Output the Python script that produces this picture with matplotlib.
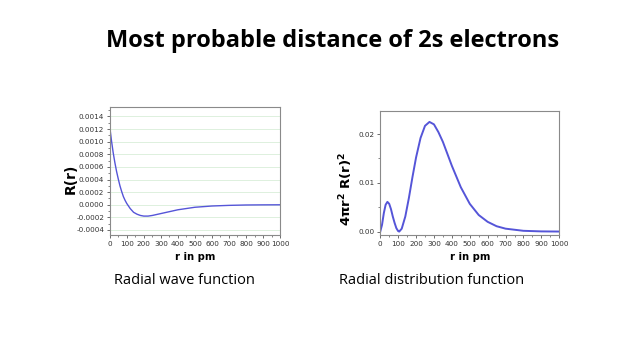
import matplotlib
matplotlib.use("Agg")
import matplotlib.pyplot as plt
from matplotlib.ticker import MultipleLocator, FormatStrFormatter

# radial wave function R(r) of 2s
r_wave = [0, 10, 20, 30, 40, 50, 60, 70, 80, 90, 100, 120, 140, 160, 180,
          200, 225, 250, 300, 350, 400, 450, 500, 600, 700, 800, 900, 1000]
R_wave = [0.00124, 0.00102, 0.00083, 0.00067, 0.00053, 0.00041, 0.00030,
          0.00021, 0.00013, 0.00007, 0.00002, -0.00006, -0.00012, -0.00015,
          -0.00017, -0.00018, -0.00018, -0.00017, -0.00014, -0.00011,
          -0.00008, -0.00006, -0.00004, -0.00002, -0.00001, -0.000004,
          -0.000002, -0.000001]

# radial distribution 4*pi*r^2*R^2
r_dist = [0, 10, 20, 30, 40, 50, 60, 70, 80, 90, 100, 106, 120, 140, 160,
          180, 200, 225, 250, 275, 300, 325, 350, 400, 450, 500, 550, 600,
          650, 700, 800, 900, 1000]
P_dist = [0.0, 0.0014, 0.0038, 0.0055, 0.0061, 0.0057, 0.0046, 0.0031,
          0.0018, 0.0007, 0.0001, 0.0, 0.0006, 0.0031, 0.0069, 0.0112,
          0.0152, 0.0192, 0.0217, 0.0225, 0.0220, 0.0204, 0.0184, 0.0135,
          0.0091, 0.0057, 0.0034, 0.0020, 0.0011, 0.0006, 0.00016, 0.00004,
          0.00001]

title = "Most probable distance of 2s electrons"
captions = ["Radial wave function", "Radial distribution function"]
line_col = "#5555d8"
spine_col = "#8a8a8a"

fig = plt.figure(figsize=(6.38, 3.59), dpi=100)
fig.patch.set_facecolor("white")

fig.text(0.521, 0.885, title, ha="center", va="center",
         fontsize=17, fontweight="bold", family="Open Sans")


def style(ax):
    for s in ax.spines.values():
        s.set_color(spine_col)
        s.set_linewidth(0.8)
    ax.tick_params(which="both", direction="out", colors="#555555",
                   labelsize=5.2, labelcolor="#333333", pad=1.5)
    ax.tick_params(which="major", length=2.5, width=0.6)
    ax.tick_params(which="minor", length=1.5, width=0.5)
    ax.xaxis.set_major_locator(MultipleLocator(100))
    ax.xaxis.set_minor_locator(MultipleLocator(50))
    ax.set_xlim(0, 1000)
    ax.set_xlabel("r in pm", fontsize=7.2, fontweight="bold", labelpad=4)


# left: radial wave function
ax1 = fig.add_axes([0.172, 0.3454, 0.267, 0.3565])
ax1.plot(r_wave, R_wave, color=line_col, lw=1.0)
ax1.set_ylim(-0.00048, 0.00155)
ax1.yaxis.set_major_locator(MultipleLocator(0.0002))
ax1.yaxis.set_minor_locator(MultipleLocator(0.0001))
ax1.yaxis.set_major_formatter(FormatStrFormatter("%.4f"))
ax1.grid(axis="y", which="major", color="#d8eed8", lw=0.6)
ax1.set_axisbelow(True)
style(ax1)
ax1.set_ylabel("R(r)", fontsize=10, fontweight="bold")
ax1.yaxis.set_label_coords(-0.19, 0.44)

# right: radial distribution function
ax2 = fig.add_axes([0.596, 0.3454, 0.2806, 0.3462])
ax2.plot(r_dist, P_dist, color=line_col, lw=1.4)
ax2.set_ylim(-0.0007, 0.0248)
ax2.yaxis.set_major_locator(MultipleLocator(0.01))
ax2.yaxis.set_minor_locator(MultipleLocator(0.005))
ax2.yaxis.set_major_formatter(FormatStrFormatter("%.2f"))
style(ax2)
ax2.set_ylabel(r"$\mathbf{4\pi r^2\ R(r)^2}$", fontsize=9.5)
ax2.yaxis.set_label_coords(-0.14, 0.37)

fig.text(0.289, 0.218, captions[0], ha="center", va="center",
         fontsize=10.5, family="Open Sans")
fig.text(0.676, 0.218, captions[1], ha="center", va="center",
         fontsize=10.5, family="Open Sans")

fig.savefig("out.png", dpi=100, facecolor="white")
